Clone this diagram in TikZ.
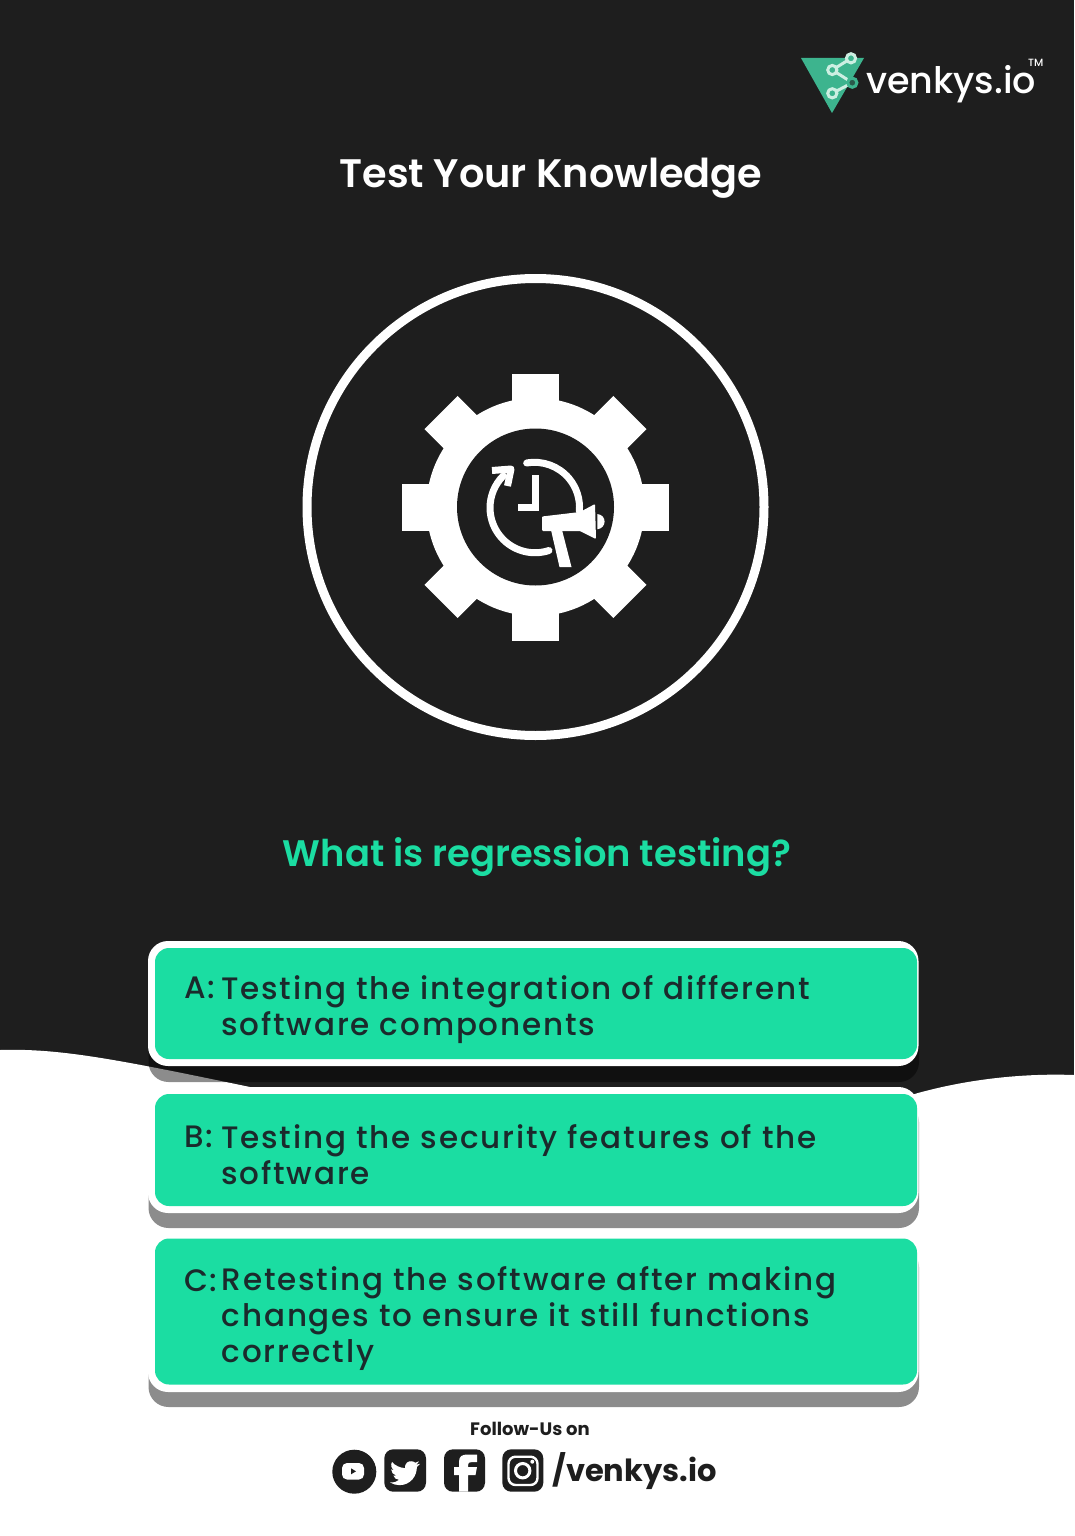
\documentclass[tikz,border=0pt]{standalone}
\usepackage{fontspec}
\setmainfont{Poppins}
\newfontfamily\headfont{Poppins SemiBold}
\newfontfamily\boldfont{Poppins Bold}
\newfontfamily\optfont[LetterSpace=6]{Poppins Medium}
\newfontfamily\logofont{Poppins Medium}
\definecolor{darkbg}{HTML}{1E1E1E}
\definecolor{optgreen}{HTML}{1BDDA2}
\definecolor{optink}{HTML}{1B2A2C}
\definecolor{logogreen}{HTML}{3DB48E}
\definecolor{logomint}{HTML}{CDEFE2}
\tikzset{
	whitebox/.style={fill=white,rounded corners=20pt,inner sep=0,minimum width=770.5pt},
	greenbox/.style={fill=optgreen,rounded corners=14pt,inner sep=0,minimum width=762pt},
	shadowbox/.style={fill=black,opacity=0.45,rounded corners=20pt,inner sep=0,minimum width=770.5pt},
	opttext/.style={text=optink,anchor=west,align=left,inner sep=0,font=\optfont\fontsize{31}{36}\selectfont},
	iconline/.style={white,line width=7pt,line cap=round},
	logoline/.style={logomint,line width=3pt},
	socialbox/.style={fill=darkbg,rounded corners=9pt},
}
\begin{document}
\begin{tikzpicture}[x=1pt,y=1pt]
\useasboundingbox (0,0) rectangle (1074,-1536);
\fill[darkbg] (0,0) rectangle (1074,-1536);

%Wave
\fill[white] (0,-1050) .. controls (60,-1048) and (120,-1060) .. (250,-1087)
	.. controls (350,-1110) and (800,-1130) .. (918,-1093)
	.. controls (965,-1080) and (1020,-1073) .. (1074,-1075)
	-- (1074,-1536) -- (0,-1536) -- cycle;

%Logo
\fill[logogreen] (801,-58) -- (864,-58) -- (832,-113) -- cycle;
\draw[logoline] (851,-58.3) -- (832.3,-70) -- (852.3,-82.7) -- (832.3,-93.3);
\draw[logoline,fill=logogreen] (851,-58.3) circle (4.6);
\draw[logoline,fill=logogreen] (832.3,-70) circle (4.6);
\draw[logoline,draw=logogreen,fill=darkbg!60!logogreen] (852.3,-82.7) circle (4.6);
\draw[logoline,fill=logogreen] (832.3,-93.3) circle (4.6);
\node [text=white,anchor=base west,inner sep=0,font=\logofont\fontsize{36.5}{40}\selectfont] (logotext) at (866,-94) {venkys.io};
\node [text=white,anchor=base west,inner sep=0,font=\logofont\fontsize{10.5}{12}\selectfont] (tmtext) at (1028,-67) {TM};

%Title
\node [text=white,font=\headfont\fontsize{39.8}{42}\selectfont] (titletext) at (551,-178) {Test Your Knowledge};

%Ring
\draw[white,line width=9pt] (535.5,-507) circle (228.5);

%Gear
\foreach \ang in {0,45,...,315}{
	\fill[white,shift={(535.5,-507)},rotate=\ang] (-23.5,0) rectangle (23.5,133.5);
}
\fill[white] (535.5,-507) circle (109);
\fill[darkbg] (535.5,-507) circle (78.5);

%Clock
\draw[iconline,line cap=butt,line join=miter] (535,-475) -- (535,-507.3) -- (518,-507.3);
\draw[iconline] (526.7,-463) arc (100:-5:45);
\draw[iconline] (503.2,-475.9) arc (135:288:45);
\draw[iconline,line join=round,line cap=butt] (492,-470.5) -- (511,-469) -- (507.5,-486);

%Megaphone
\fill[white,rounded corners=1pt] (542,-516.5) -- (580,-512) -- (595,-504) -- (596,-539) -- (580,-531) -- (542,-531) -- cycle;
\fill[white] (551,-530) -- (562,-530) -- (571.5,-567) -- (559.5,-567) -- cycle;
\fill[white] (597.3,-514) .. controls (607,-515) and (607,-528) .. (597.3,-529.3) -- cycle;

%Question
\node [text=optgreen,font=\headfont\fontsize{36.9}{40}\selectfont] (questext) at (537,-857) {What is regression testing?};

%Option A
\node [shadowbox,minimum height=125pt] (ashadow) at (533.75,-1019.5) {};
\node [whitebox,minimum height=125pt] (aback) at (533.25,-1003.5) {};
\node [greenbox,minimum height=111pt] (abox) at (536,-1003.5) {};
\node [opttext] (alabel) at (184,-988) {A:};
\node [opttext] (atext) at (221,-1009.5) {Testing the integration of different\\software components};

%Option B
\node [shadowbox,minimum height=126pt] (bshadow) at (533.75,-1165) {};
\node [whitebox,minimum height=126pt] (bback) at (533.25,-1150) {};
\node [greenbox,minimum height=112pt] (bbox) at (536,-1150) {};
\node [opttext] (blabel) at (184,-1137) {B:};
\node [opttext] (btext) at (221,-1155) {Testing the security features of the\\software};

%Option C
\node [shadowbox,minimum height=160pt] (cshadow) at (533.75,-1327) {};
\node [whitebox,minimum height=160pt] (cback) at (533.25,-1312) {};
\node [greenbox,minimum height=146pt] (cbox) at (536,-1311.5) {};
\node [opttext] (clabel) at (184,-1281) {C:};
\node [opttext] (ctext) at (221.5,-1319) {Retesting the software after making\\changes to ensure it still functions\\correctly};

%Follow
\node [text=darkbg,font=\boldfont\fontsize{18}{20}\selectfont] (followtext) at (530,-1429) {Follow-Us on};

%Youtube
\fill[darkbg] (354.3,-1471.7) circle (22);
\fill[white,rounded corners=5pt] (342,-1463) rectangle (364,-1479.5);
\fill[darkbg] (351,-1468.3) -- (351,-1474.3) -- (356,-1471.3) -- cycle;

%Twitter
\fill[socialbox] (384.3,-1449.3) rectangle (426,-1491.7);
\begin{scope}[shift={(390,-1458)},x=1.25pt,y=-1.25pt]
\fill[white] (24,4.6) -- (21.1,5.35) -- (23.3,2.6) -- (20.2,3.8)
	.. controls (19,2.6) and (16,1.8) .. (13.6,3.6)
	.. controls (12.2,4.8) and (11.8,6.5) .. (12.1,8.1)
	.. controls (8,7.9) and (4,6) .. (1.6,3.2)
	.. controls (0.3,5.4) and (1,8.3) .. (3.2,9.7)
	-- (0.9,9.1) .. controls (1,11.5) and (2.7,13.4) .. (4.9,14)
	-- (2.7,14.1) .. controls (3.3,16) and (5.2,17.4) .. (7.3,17.5)
	.. controls (5.6,18.9) and (3,19.8) .. (0,19.5)
	.. controls (2.2,20.9) and (4.8,21.7) .. (7.5,21.7)
	.. controls (16.6,21.7) and (21.6,14.2) .. (21.5,7.1) -- cycle;
\end{scope}

%Facebook
\fill[socialbox] (444,-1449.3) rectangle (485,-1491.7);
\fill[white] (459,-1491.7) -- (459,-1475) -- (454,-1475) -- (454,-1467) -- (459,-1467) -- (459,-1462)
	.. controls (459,-1456) and (462,-1454.5) .. (468,-1454.5) -- (477,-1454.5) -- (477,-1462) -- (472,-1462)
	.. controls (469,-1462) and (468,-1463) .. (468,-1465) -- (468,-1467) -- (477,-1467) -- (475.5,-1475)
	-- (468,-1475) -- (468,-1491.7) -- cycle;

%Instagram
\fill[socialbox] (502.3,-1449.3) rectangle (543.3,-1491.7);
\draw[white,line width=2.4pt,rounded corners=7pt] (508.5,-1456.7) rectangle (537.5,-1485);
\draw[white,line width=3pt] (522.7,-1470.7) circle (7.2);
\fill[white] (532.3,-1461.7) circle (2);

\node [text=darkbg,anchor=base west,inner sep=0,font=\boldfont\fontsize{30.5}{34}\selectfont] (handletext) at (552,-1481) {/venkys.io};

\end{tikzpicture}
\end{document}
